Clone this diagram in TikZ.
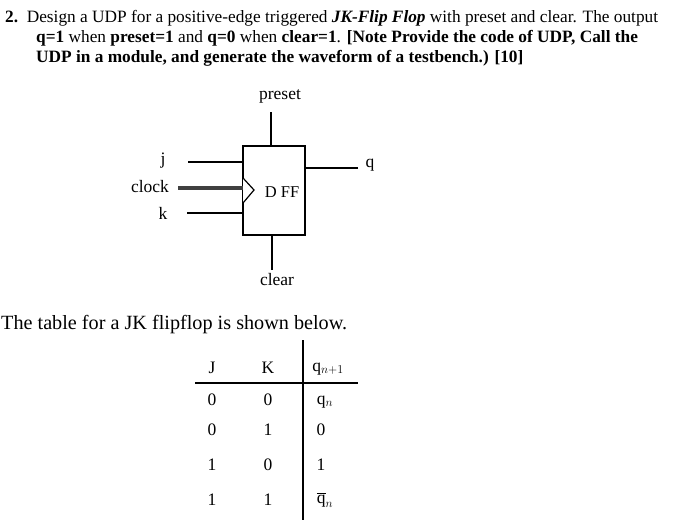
\documentclass[tikz,border=0pt]{standalone}
\usepackage{fontspec}
\setmainfont{Liberation Serif}
\begin{document}
\begin{tikzpicture}[x=1pt,y=-1pt,
  lbl/.style={inner sep=0pt,font=\fontsize{17.5}{19}\selectfont},
  tl/.style={inner sep=0pt,anchor=base west,font=\fontsize{17.3}{20}\selectfont},
  wire/.style={line width=1.2pt}]
\useasboundingbox (0,0) rectangle (700,527);
\node[tl] (t1) at (5,23) {\textbf{2.}\ \ Design a UDP for a positive-edge triggered \textbf{\textit{JK-Flip Flop}} with preset and clear. The output};
\node[tl] (t2) at (36,43) {\textbf{q=1} when \textbf{preset=1} and \textbf{q=0} when \textbf{clear=1}. \textbf{[Note Provide the code of UDP, Call the}};
\node[tl] (t3) at (36,63) {\textbf{UDP in a module, and generate the waveform of a testbench.) [10]}};
% flip-flop
\node[draw,wire,minimum width=62pt,minimum height=89pt,inner sep=0pt] (ff) at (274,190.5) {};
\node[lbl,font=\fontsize{16.5}{18}\selectfont] (dff) at (282,192) {D FF};
\draw[wire,fill=white] (243,178) -- (254,190) -- (243,203);
\coordinate (pt) at (271,112);
\coordinate (cb) at (272,270);
\draw[wire] (pt) -- (pt |- ff.north);
\draw[wire] (cb) -- (cb |- ff.south);
\node[lbl] (preset) at (280,96) {preset};
\node[lbl] (clear) at (277,280) {clear};
\coordinate (jw) at (188,162); \coordinate (kw) at (187,213); \coordinate (cw) at (178,188);
\draw[wire] (jw) -- (jw -| ff.west);
\draw[wire] (kw) -- (kw -| ff.west);
\draw[line width=4.5pt,black!75] (cw) -- (243,188);
\node[lbl] (j) at (163,161) {j};
\node[lbl] (clock) at (150,187) {clock};
\node[lbl] (k) at (163,213) {k};
\coordinate (qw) at (358,168);
\draw[wire] (qw) -- (qw -| ff.east);
\node[lbl] (q) at (370,165) {q};
% table
\node[inner sep=0pt,anchor=base west,font=\fontsize{20.2}{22}\selectfont] (tt) at (1,329) {The table for a JK flipflop is shown below.};
\coordinate (vt) at (303,340); \coordinate (vb) at (303,520);
\draw[wire] (vt) -- (vb);
\coordinate (hl) at (195,383); \coordinate (hr) at (358,383);
\draw[wire] (hl) -- (hr);
\node[lbl] (hJ) at (212,368) {J};
\node[lbl] (hK) at (268,368) {K};
\node[lbl] (hQ) at (328,369) {q$_{n+1}$};
\node[lbl] (a1) at (212,400) {0}; \node[lbl] (b1) at (268,400) {0}; \node[lbl] (c1) at (325,402) {q$_n$};
\node[lbl] (a2) at (212,430) {0}; \node[lbl] (b2) at (268,430) {1}; \node[lbl] (c2) at (321,430) {0};
\node[lbl] (a3) at (212,465) {1}; \node[lbl] (b3) at (268,465) {0}; \node[lbl] (c3) at (321,465) {1};
\node[lbl] (a4) at (212,500) {1}; \node[lbl] (b4) at (268,500) {1}; \node[lbl] (c4) at (325,500) {$\overline{\mathrm{q}}_n$};
\end{tikzpicture}
\end{document}
